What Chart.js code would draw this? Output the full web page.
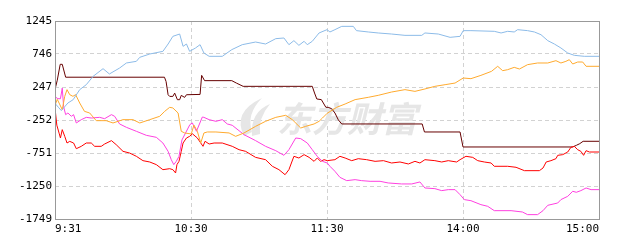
<!DOCTYPE html>
<html>
<head>
<meta charset="utf-8">
<script src="https://cdn.jsdelivr.net/npm/chart.js@4.4.1/dist/chart.umd.min.js"></script>
<style>
  html, body { margin: 0; padding: 0; background: #fff; }
  canvas { display: block; }
</style>
</head>
<body>
<canvas id="flowChart" width="620" height="240"></canvas>
<script>
// minutes since 9:30 (lunch break removed), value
const blueLine = [[0,0],[1.5,-60],[2.8,-110],[5.7,5],[8,55],[10.9,207],[13.8,282],[16.8,408],[21.2,524],[24,444],[28.5,534],[31.5,610],[35.9,635],[37.4,696],[41.8,746],[47.6,786],[49.9,897],[52,1013],[55,1048],[56.5,862],[58,897],[59.4,786],[62,837],[64,887],[65.7,761],[68,711],[73.8,711],[78,812],[82.6,887],[88.5,927],[92.9,897],[97.4,978],[101,988],[103.2,887],[105.4,948],[107.6,877],[109.9,938],[111.3,887],[113.5,938],[116.5,1064],[120,1114],[121.3,1079],[123.5,1114],[126.5,1164],[131.6,1164],[133,1099],[138.2,1079],[142.6,1064],[148.5,1048],[154.4,1028],[161.8,1028],[163.2,1064],[169.1,1048],[174.3,998],[178.7,1013],[180.1,1099],[183.5,1099],[193.8,1089],[196.8,1064],[199.7,1089],[202.6,1079],[204.1,1114],[208.5,1099],[211.5,1079],[214.4,1038],[217.4,948],[220.3,897],[223.2,837],[226.2,761],[229.1,726],[233.5,711],[240,711]];

const orangeLine = [[0,-30],[1,60],[2,-10],[3.2,-96],[4.3,106],[5.3,207],[6.5,131],[7.9,106],[9.1,131],[10.9,5],[13,-121],[15.3,-146],[18.2,-262],[22.6,-262],[25.6,-297],[30,-247],[34.4,-247],[37.4,-297],[41.8,-247],[46.2,-196],[48.4,-121],[50.6,-60],[52,-70],[54.3,-146],[55.7,-423],[57.2,-448],[60.1,-463],[61.3,-330],[62.8,-423],[64.3,-600],[65.7,-448],[67.2,-433],[71,-433],[76.8,-448],[79.7,-499],[83.4,-448],[88.5,-348],[92.9,-272],[97.4,-212],[101.8,-181],[104.7,-247],[108.4,-373],[110.6,-348],[114.3,-312],[116.5,-272],[118,-222],[120.1,-150],[124.3,-60],[128,-10],[132.4,56],[138.2,91],[142.6,121],[148.5,171],[154.4,207],[158.8,181],[163.2,217],[167.6,257],[172.1,282],[176.5,307],[180.1,383],[183.5,373],[187.9,423],[192.6,484],[195.3,560],[197.5,494],[199.7,509],[202.6,544],[204.9,519],[208.5,585],[212.9,610],[217.4,610],[221,645],[223.2,610],[225.4,635],[226.9,660],[228.4,595],[230.6,625],[232.8,625],[234.3,560],[240,560]];

const magentaLine = [[0,100],[1.3,70],[2.4,70],[3.2,230],[3.8,-50],[4.7,-171],[5.7,-146],[7.2,-196],[8.2,-171],[9.4,-297],[11.6,-247],[13.8,-212],[16,-222],[19.7,-212],[21.9,-232],[24.9,-171],[26.3,-196],[28.5,-312],[31.5,-363],[35.9,-423],[40.3,-484],[44.7,-514],[47.6,-600],[49.9,-726],[51.3,-852],[52.4,-927],[53.5,-877],[54.7,-802],[56,-554],[59.5,-322],[60.6,-297],[62.4,-423],[65,-207],[65.7,-212],[68,-247],[71,-272],[73.8,-247],[76,-312],[78.2,-332],[83.4,-474],[88.5,-564],[92.9,-650],[97.4,-716],[101,-786],[103.2,-701],[106.2,-524],[108.4,-534],[111.3,-600],[113.5,-701],[115.7,-802],[118,-877],[120.1,-902],[121.3,-952],[123.5,-1028],[125.7,-1119],[128.7,-1169],[132.4,-1154],[135.3,-1169],[139,-1179],[143.4,-1179],[147,-1204],[152.9,-1219],[157.4,-1219],[161,-1189],[163.2,-1280],[167.6,-1290],[170.6,-1320],[173.5,-1305],[176.5,-1305],[178.7,-1381],[180.6,-1456],[183.5,-1472],[187.9,-1532],[190.9,-1557],[193.8,-1623],[201.2,-1623],[206.2,-1643],[208.5,-1683],[212.9,-1683],[215.3,-1623],[217.4,-1542],[221.8,-1507],[223.2,-1456],[226.2,-1406],[228.4,-1330],[230,-1345],[232,-1320],[234.3,-1280],[236.5,-1305],[240,-1305]];

const redLine = [[0,-70],[0.8,-330],[1.8,-450],[2.4,-524],[3.2,-398],[4.3,-499],[5.3,-600],[6.5,-575],[8.2,-600],[9.4,-686],[11.6,-650],[13.8,-600],[16,-600],[17.5,-650],[20.4,-650],[21.9,-615],[24.9,-564],[27,-625],[30,-726],[32.9,-751],[35.9,-801],[38.8,-867],[41.8,-887],[44.7,-927],[47.6,-1003],[50.6,-988],[52,-1003],[53.2,-1053],[53.8,-927],[54.7,-877],[55.7,-726],[56.5,-600],[58,-524],[59.4,-499],[60.6,-460],[62.8,-524],[64.3,-600],[65.3,-650],[66.2,-574],[68,-615],[70.2,-600],[73.8,-600],[78.2,-650],[81.2,-701],[84.1,-726],[88.5,-817],[92.9,-852],[95.9,-952],[98.8,-1003],[101.5,-1079],[103.2,-1003],[105.4,-801],[107.6,-827],[109.9,-776],[112.1,-817],[114.3,-877],[115.7,-827],[117.2,-877],[118.7,-852],[120.1,-867],[123.5,-852],[125.7,-801],[128,-827],[130.9,-867],[133.8,-837],[137.5,-852],[141.2,-877],[144.9,-867],[148.5,-902],[152.2,-887],[155.9,-917],[158.8,-877],[161,-902],[163.2,-852],[167.6,-867],[170.6,-887],[173.5,-867],[177.2,-887],[178.7,-852],[181.3,-801],[184.3,-817],[186.5,-867],[189.4,-887],[192.4,-902],[193.8,-952],[199.7,-952],[203.4,-967],[207.1,-1018],[213.7,-1018],[215.3,-978],[216.7,-887],[218.8,-867],[221,-837],[221.8,-786],[224,-776],[226.2,-736],[227.6,-665],[229.1,-650],[230.6,-701],[232,-726],[233.2,-786],[234.3,-716],[235.8,-736],[240,-736]];

const maroonLine = [[0,210],[1,350],[2.3,590],[3.2,590],[4.7,395],[48.3,395],[49,330],[49.9,130],[50.6,105],[52,105],[52.8,155],[54,55],[55,55],[55.7,120],[57.2,90],[58,130],[64,135],[64.7,423],[66,343],[78,343],[80,307],[83,257],[113.5,257],[114.5,156],[115.5,66],[117.5,56],[119.5,-60],[120.5,-60],[122,-80],[123.5,-146],[125,-250],[126.5,-312],[162,-312],[163,-433],[178.7,-433],[180,-660],[228.4,-660],[230,-635],[231.5,-610],[233,-574],[240,-574]];

const yTicks = [-1749, -1250, -751, -252, 247, 746, 1245];
const xTicks = [0, 60, 120, 180, 240];
const xTickLabels = ['9:31', '10:30', '11:30', '14:00', '15:00'];

const toPoints = arr => arr.map(p => ({ x: p[0], y: p[1] }));

function line(data, color) {
    return { data: toPoints(data), borderColor: color, borderWidth: 1, pointRadius: 0, fill: false, tension: 0 };
}

// light grey logo + name watermark behind the lines
const watermark = {
    id: 'watermark',
    beforeDatasetsDraw(chart) {
        const ctx = chart.ctx;
        ctx.save();
        ctx.fillStyle = '#e6e6e6';
        // rough flame-shaped logo
        ctx.beginPath();
        ctx.moveTo(244, 136);
        ctx.quadraticCurveTo(232, 112, 262, 98);
        ctx.quadraticCurveTo(246, 114, 252, 132);
        ctx.closePath();
        ctx.fill();
        ctx.beginPath();
        ctx.moveTo(252, 136);
        ctx.quadraticCurveTo(250, 112, 270, 104);
        ctx.quadraticCurveTo(258, 118, 260, 134);
        ctx.closePath();
        ctx.fill();
        ctx.font = 'italic bold 35px "Noto Sans CJK SC"';
        ctx.textAlign = 'center';
        ctx.textBaseline = 'middle';
        ctx.fillText('东方财富', 347, 119);
        ctx.restore();
    }
};

// grey frame round the plot
const frame = {
    id: 'frame',
    afterDraw(chart) {
        const a = chart.chartArea;
        const ctx = chart.ctx;
        ctx.save();
        ctx.strokeStyle = '#999999';
        ctx.lineWidth = 1;
        ctx.strokeRect(a.left + 0.5, a.top + 0.5, a.right - a.left, a.bottom - a.top);
        ctx.restore();
    }
};

const ctx = document.getElementById('flowChart').getContext('2d');
new Chart(ctx, {
    type: 'line',
    data: {
        datasets: [
            line(blueLine, '#8cbbe8'),
            line(orangeLine, '#ffaa2e'),
            line(magentaLine, '#ff40e0'),
            line(redLine, '#ff0000'),
            line(maroonLine, '#660000')
        ]
    },
    options: {
        responsive: false,
        animation: false,
        layout: { padding: { top: 21, right: 21, left: 0, bottom: 0 } },
        plugins: { legend: { display: false }, tooltip: { enabled: false } },
        scales: {
            x: {
                type: 'linear',
                min: 0,
                max: 240,
                afterBuildTicks: s => { s.ticks = xTicks.map(v => ({ value: v })); },
                afterFit: s => { s.height = 21; },
                grid: { color: '#d2d2d2', drawTicks: false },
                border: { display: false, dash: [4, 3] },
                ticks: {
                    padding: 4,
                    align: 'inner',
                    maxRotation: 0,
                    autoSkip: false,
                    color: '#000',
                    font: { family: '"DejaVu Sans Mono"', size: 11 },
                    callback: v => xTickLabels[xTicks.indexOf(v)]
                }
            },
            y: {
                min: -1749,
                max: 1245,
                afterBuildTicks: s => { s.ticks = yTicks.map(v => ({ value: v })); },
                afterFit: s => { s.width = 55; },
                grid: { color: '#d2d2d2', drawTicks: false },
                border: { display: false, dash: [4, 3] },
                ticks: {
                    padding: 3,
                    color: '#000',
                    font: { family: '"DejaVu Sans Mono"', size: 11 },
                    callback: v => String(v)
                }
            }
        }
    },
    plugins: [watermark, frame]
});
</script>
</body>
</html>
